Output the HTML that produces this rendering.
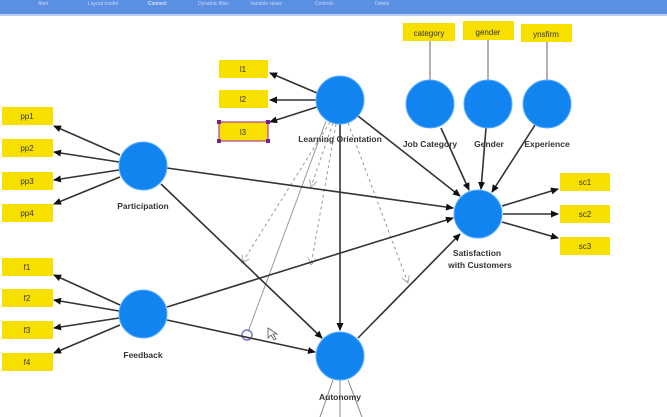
<!DOCTYPE html>
<html><head><meta charset="utf-8"><style>
html,body{margin:0;padding:0;background:#fff;width:667px;height:417px;overflow:hidden}
svg{display:block}
text{font-family:"Liberation Sans",sans-serif}
</style></head><body>
<svg width="667" height="417" viewBox="0 0 667 417" xmlns="http://www.w3.org/2000/svg">
<defs>
<marker id="a" markerWidth="8" markerHeight="8" refX="7" refY="4" orient="auto" markerUnits="userSpaceOnUse"><path d="M0,0.5 L8,4 L0,7.5z" fill="#111"/></marker>
<marker id="g" markerWidth="10" markerHeight="10" refX="8" refY="5" orient="auto" markerUnits="userSpaceOnUse"><path d="M1,1 L8,5 L1,9" fill="none" stroke="#aaa" stroke-width="1"/></marker>
</defs>
<rect x="0" y="0" width="667" height="14" fill="#5b8fe3"/>
<rect x="0" y="14" width="667" height="2" fill="#b8cdf0"/>
<g fill="#c8d8f5" font-size="5"><text x="38" y="5">Alert</text><text x="88" y="5">Layout model</text><text x="148" y="5" fill="#fff">Connect</text><text x="198" y="5">Dynamic filter</text><text x="250" y="5">Variable views</text><text x="315" y="5">Controls</text><text x="375" y="5">Delete</text></g>

<!-- dashed lines from LO -->
<g stroke="#999" stroke-width="1" stroke-dasharray="3,3" fill="none" marker-end="url(#g)">
<line x1="330" y1="122" x2="242" y2="263"/>
<line x1="336" y1="124" x2="311" y2="265"/>
<line x1="348" y1="123" x2="408" y2="283"/>
<line x1="333" y1="123" x2="311" y2="187"/>
</g>
<line x1="326" y1="121" x2="248" y2="332" stroke="#999" stroke-width="1"/>
<circle cx="247" cy="335" r="5" fill="none" stroke="#7a7ac8" stroke-width="1.5"/>

<g stroke="#333" stroke-width="1.6" fill="none" marker-end="url(#a)">
<!-- LO indicators -->
<line x1="317" y1="93" x2="270" y2="73"/>
<line x1="316" y1="100" x2="270" y2="100"/>
<line x1="317" y1="107" x2="270" y2="122"/>
<!-- participation indicators -->
<line x1="120" y1="155" x2="54" y2="126"/>
<line x1="119" y1="162" x2="54" y2="152"/>
<line x1="119" y1="170" x2="54" y2="180"/>
<line x1="120" y1="177" x2="54" y2="204"/>
<!-- feedback indicators -->
<line x1="120" y1="305" x2="54" y2="275"/>
<line x1="119" y1="311" x2="54" y2="300"/>
<line x1="119" y1="318" x2="54" y2="328"/>
<line x1="120" y1="325" x2="54" y2="353"/>
<!-- sat indicators -->
<line x1="502" y1="206" x2="558" y2="189"/>
<line x1="503" y1="214" x2="558" y2="214"/>
<line x1="502" y1="222" x2="558" y2="238"/>
<!-- structural -->
<line x1="167" y1="168" x2="453" y2="208"/>
<line x1="161" y1="184" x2="322" y2="338"/>
<line x1="167" y1="307" x2="453" y2="218"/>
<line x1="167" y1="320" x2="315" y2="352"/>
<line x1="340" y1="124" x2="340" y2="330"/>
<line x1="358" y1="116" x2="460" y2="196"/>
<line x1="358" y1="338" x2="460" y2="234"/>
<line x1="441" y1="128" x2="469" y2="190"/>
<line x1="486" y1="128" x2="481" y2="189"/>
<line x1="535" y1="125" x2="492" y2="192"/>
</g>
<g stroke="#999" stroke-width="1.5"><line x1="430" y1="41" x2="430" y2="80"/><line x1="488" y1="40" x2="488" y2="80"/><line x1="547" y1="42" x2="547" y2="80"/></g>
<g stroke="#888" stroke-width="1"><line x1="333" y1="380" x2="320" y2="417"/><line x1="340" y1="380" x2="340" y2="417"/><line x1="348" y1="380" x2="362" y2="417"/></g>

<g fill="#1184f0" stroke="#5fb0ff" stroke-width="1">
<circle cx="340" cy="100" r="24"/><circle cx="430" cy="104" r="24"/><circle cx="488" cy="104" r="24"/><circle cx="547" cy="104" r="24"/>
<circle cx="143" cy="166" r="24"/><circle cx="143" cy="314" r="24"/><circle cx="478" cy="214" r="24"/><circle cx="340" cy="356" r="24"/>
</g>

<g fill="#f7e000">
<rect x="403" y="23" width="52" height="18"/><rect x="463" y="21" width="51" height="19"/><rect x="521" y="24" width="51" height="18"/>
<rect x="219" y="60" width="49" height="18"/><rect x="219" y="90" width="49" height="18"/><rect x="219" y="122" width="49" height="19" stroke="#a02090" stroke-width="1"/>
<rect x="2" y="107" width="51" height="18"/><rect x="2" y="139" width="51" height="18"/><rect x="2" y="172" width="51" height="18"/><rect x="2" y="204" width="51" height="18"/>
<rect x="2" y="258" width="51" height="18"/><rect x="2" y="289" width="51" height="18"/><rect x="2" y="321" width="51" height="18"/><rect x="2" y="353" width="51" height="18"/>
<rect x="560" y="173" width="50" height="18"/><rect x="560" y="205" width="50" height="18"/><rect x="560" y="237" width="50" height="18"/>
</g>
<g fill="#7a2090"><rect x="217" y="120" width="4" height="4"/><rect x="266" y="120" width="4" height="4"/><rect x="217" y="139" width="4" height="4"/><rect x="266" y="139" width="4" height="4"/></g>

<g font-size="8" fill="#333" text-anchor="middle">
<text x="429" y="36">category</text><text x="488" y="35">gender</text><text x="546" y="37">ynsfirm</text>
<text x="243" y="72">l1</text><text x="243" y="102">l2</text><text x="243" y="135">l3</text>
<text x="27" y="119">pp1</text><text x="27" y="151">pp2</text><text x="27" y="184">pp3</text><text x="27" y="216">pp4</text>
<text x="27" y="270">f1</text><text x="27" y="301">f2</text><text x="27" y="333">f3</text><text x="27" y="365">f4</text>
<text x="585" y="185">sc1</text><text x="585" y="217">sc2</text><text x="585" y="249">sc3</text>
</g>
<g font-size="8.5" font-weight="bold" fill="#333" text-anchor="middle">
<text x="340" y="142">Learning Orientation</text>
<text x="430" y="147">Job Category</text><text x="489" y="147">Gender</text><text x="547" y="147">Experience</text>
<text x="143" y="209">Participation</text><text x="143" y="358">Feedback</text>
<text x="477" y="256">Satisfaction</text><text x="480" y="268">with Customers</text>
<text x="340" y="400">Autonomy</text>
</g>
<path d="M268,328 l0,10 l3,-3 l3,5 l2,-1 l-3,-5 l4,0z" fill="#fff" stroke="#555" stroke-width="0.8"/>
</svg>
</body></html>
